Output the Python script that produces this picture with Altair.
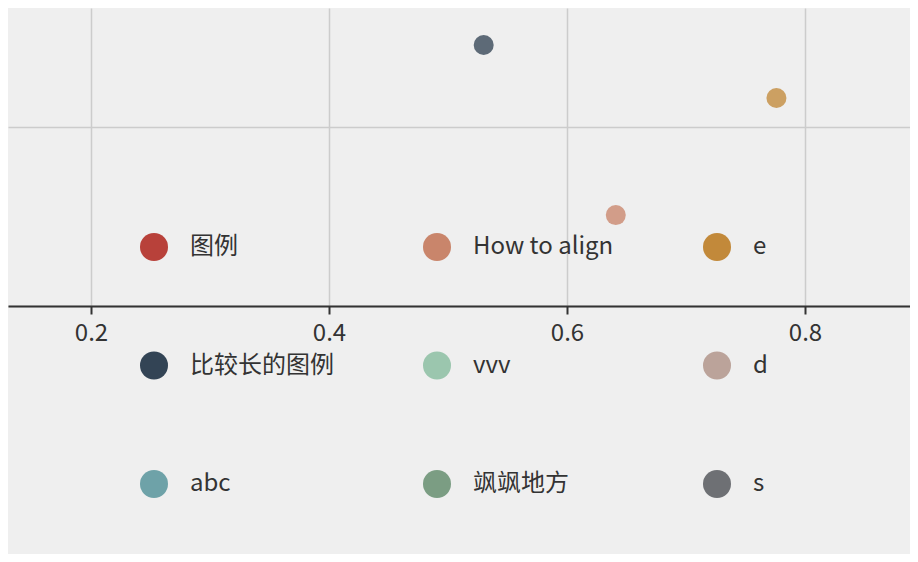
import altair as alt
import pandas as pd

# Legend series in data order (legend fills column by column)
series_order = ["图例", "比较长的图例", "abc",
                "How to align", "vvv", "飒飒地方",
                "e", "d", "s"]
series_colors = ["#b8413a", "#334455", "#6ea2a8",
                 "#c9856b", "#9bc6ae", "#7b9d83",
                 "#c2893a", "#bba39a", "#6e7074"]

# Scatter points
point_series = ["比较长的图例", "e", "How to align"]
point_x = [0.53, 0.776, 0.641]
point_y = [1.458, 1.162, 0.508]

x_ticks = [0.2, 0.4, 0.6, 0.8]
y_grid = [0, 1]

df = pd.DataFrame({"series": point_series, "x": point_x, "y": point_y})

FONT = "Noto Sans CJK SC"

chart = alt.Chart(df).mark_circle(size=400, opacity=0.78).encode(
    x=alt.X("x:Q",
            scale=alt.Scale(domain=[0.13025, 0.88824], nice=False, zero=False),
            axis=alt.Axis(values=x_ticks, title=None, format=".1f",
                          labelFontSize=24, labelColor="#333333", labelFont=FONT,
                          labelPadding=7, tickSize=8, tickWidth=2, tickColor="#333333",
                          domainColor="#333333", domainWidth=2,
                          grid=True, gridColor="#cccccc", gridWidth=1.5)),
    y=alt.Y("y:Q",
            scale=alt.Scale(domain=[0, 298 / 179], nice=False, zero=True),
            axis=alt.Axis(values=y_grid, title=None, labels=False, ticks=False,
                          domain=False, grid=True, gridColor="#cccccc", gridWidth=1.5)),
    color=alt.Color("series:N",
                    scale=alt.Scale(domain=series_order, range=series_colors),
                    legend=alt.Legend(
                        title=None, orient="none", legendX=132, legendY=225,
                        columns=3, columnPadding=89, rowPadding=90.5,
                        symbolType="circle", symbolSize=784, symbolOpacity=1,
                        symbolStrokeWidth=0, labelFontSize=24, labelFont=FONT,
                        labelColor="#333333", labelOffset=22, padding=0,
                        labelLimit=400)),
).properties(
    width=902, height=298,
    background="#efefef",
    padding={"left": 0, "top": 0, "right": 0, "bottom": 248},
    autosize=alt.AutoSizeParams(type="none"),
).configure_view(stroke=None)

chart.save("out.html", embed_options={"renderer": "svg", "actions": False})
